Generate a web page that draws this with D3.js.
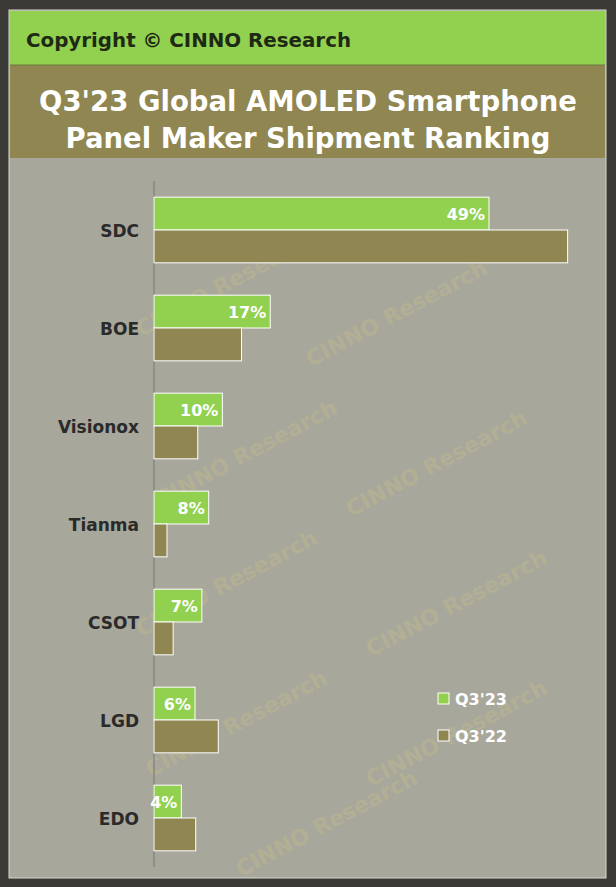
<!DOCTYPE html>
<html><head><meta charset="utf-8">
<script src="https://cdn.jsdelivr.net/npm/d3@7"></script>
<style>body{margin:0;background:#fff}svg{display:block}</style>
</head><body><svg id="c" width="616" height="887"></svg>
<script>
const categories = ["SDC","BOE","Visionox","Tianma","CSOT","LGD","EDO"];
const q323 = [49,17,10,8,7,6,4];
const q322 = [60.5,12.8,6.4,1.9,2.8,9.4,6.1];
const seriesNames = ["Q3'23","Q3'22"];
const colors = ["#92d050","#8f8651"];

const svg = d3.select("#c");
const F = "'DejaVu Sans', Verdana, sans-serif";
svg.append("rect").attr("width",616).attr("height",887).attr("fill","#3b3a36");
svg.append("rect").attr("x",9).attr("y",10).attr("width",597).attr("height",868).attr("fill","#a8a79b").attr("stroke","#d8d8d0").attr("stroke-width",1);
// watermarks
const wm=[[230,290],[400,320],[250,460],[440,470],[230,590],[460,610],[240,730],[460,740],[330,830]];
wm.forEach(([x,y])=>svg.append("text").attr("transform",`translate(${x},${y}) rotate(-28)`).attr("text-anchor","middle").attr("font-family",F).attr("font-weight","bold").attr("font-size",22).attr("fill","#c9c48a").attr("opacity",0.3).text("CINNO Research"));
svg.append("rect").attr("x",10).attr("y",11).attr("width",595).attr("height",54).attr("fill","#92d050");
svg.append("rect").attr("x",10).attr("y",65).attr("width",595).attr("height",93).attr("fill","#8f8651");
svg.append("line").attr("x1",10).attr("x2",605).attr("y1",65).attr("y2",65).attr("stroke","#6a7a40");
svg.append("text").attr("x",26).attr("y",47).attr("font-family",F).attr("font-weight","bold").attr("font-size",20).attr("fill","#1e2a14").attr("textLength",325).attr("lengthAdjust","spacingAndGlyphs").text("Copyright © CINNO Research");
[["Q3'23 Global AMOLED Smartphone",111],["Panel Maker Shipment Ranking",148]].forEach(([t,y])=>{
  svg.append("text").attr("x",308).attr("y",y).attr("text-anchor","middle").attr("font-family",F).attr("font-weight","bold").attr("font-size",27.5).attr("fill","#fff").text(t);
});

const x = d3.scaleLinear().domain([0,49]).range([154,489]);
const y = d3.scaleBand().domain(categories).range([181,867]).paddingInner(0.33).paddingOuter(0.165);
const g = svg.append("g");
g.append("line").attr("x1",154).attr("x2",154).attr("y1",181).attr("y2",867).attr("stroke","#777");
const bh = y.bandwidth()/2;
categories.forEach((c,i)=>{
  const y0=y(c);
  g.append("rect").attr("x",x(0)).attr("y",y0).attr("width",x(q323[i])-x(0)).attr("height",bh).attr("fill",colors[0]).attr("stroke","#fff").attr("stroke-width",1);
  g.append("rect").attr("x",x(0)).attr("y",y0+bh).attr("width",x(q322[i])-x(0)).attr("height",bh).attr("fill",colors[1]).attr("stroke","#fff").attr("stroke-width",1);
  g.append("text").attr("x",x(q323[i])-4).attr("y",y0+bh/2+6).attr("text-anchor","end").attr("font-family",F).attr("font-weight","bold").attr("font-size",16).attr("fill","#fff").text(q323[i]+"%");
  g.append("text").attr("x",139).attr("y",y0+bh+7).attr("text-anchor","end").attr("font-family",F).attr("font-weight","bold").attr("font-size",17).attr("fill","#2a2a2a").text(c);
});
seriesNames.forEach((s,i)=>{
  const ly=702+i*37;
  svg.append("rect").attr("x",438).attr("y",ly-9).attr("width",11).attr("height",11).attr("fill",colors[i]).attr("stroke","#fff");
  svg.append("text").attr("x",455).attr("y",ly+3).attr("font-family",F).attr("font-weight","bold").attr("font-size",16).attr("fill","#fff").text(s);
});
</script></body></html>
